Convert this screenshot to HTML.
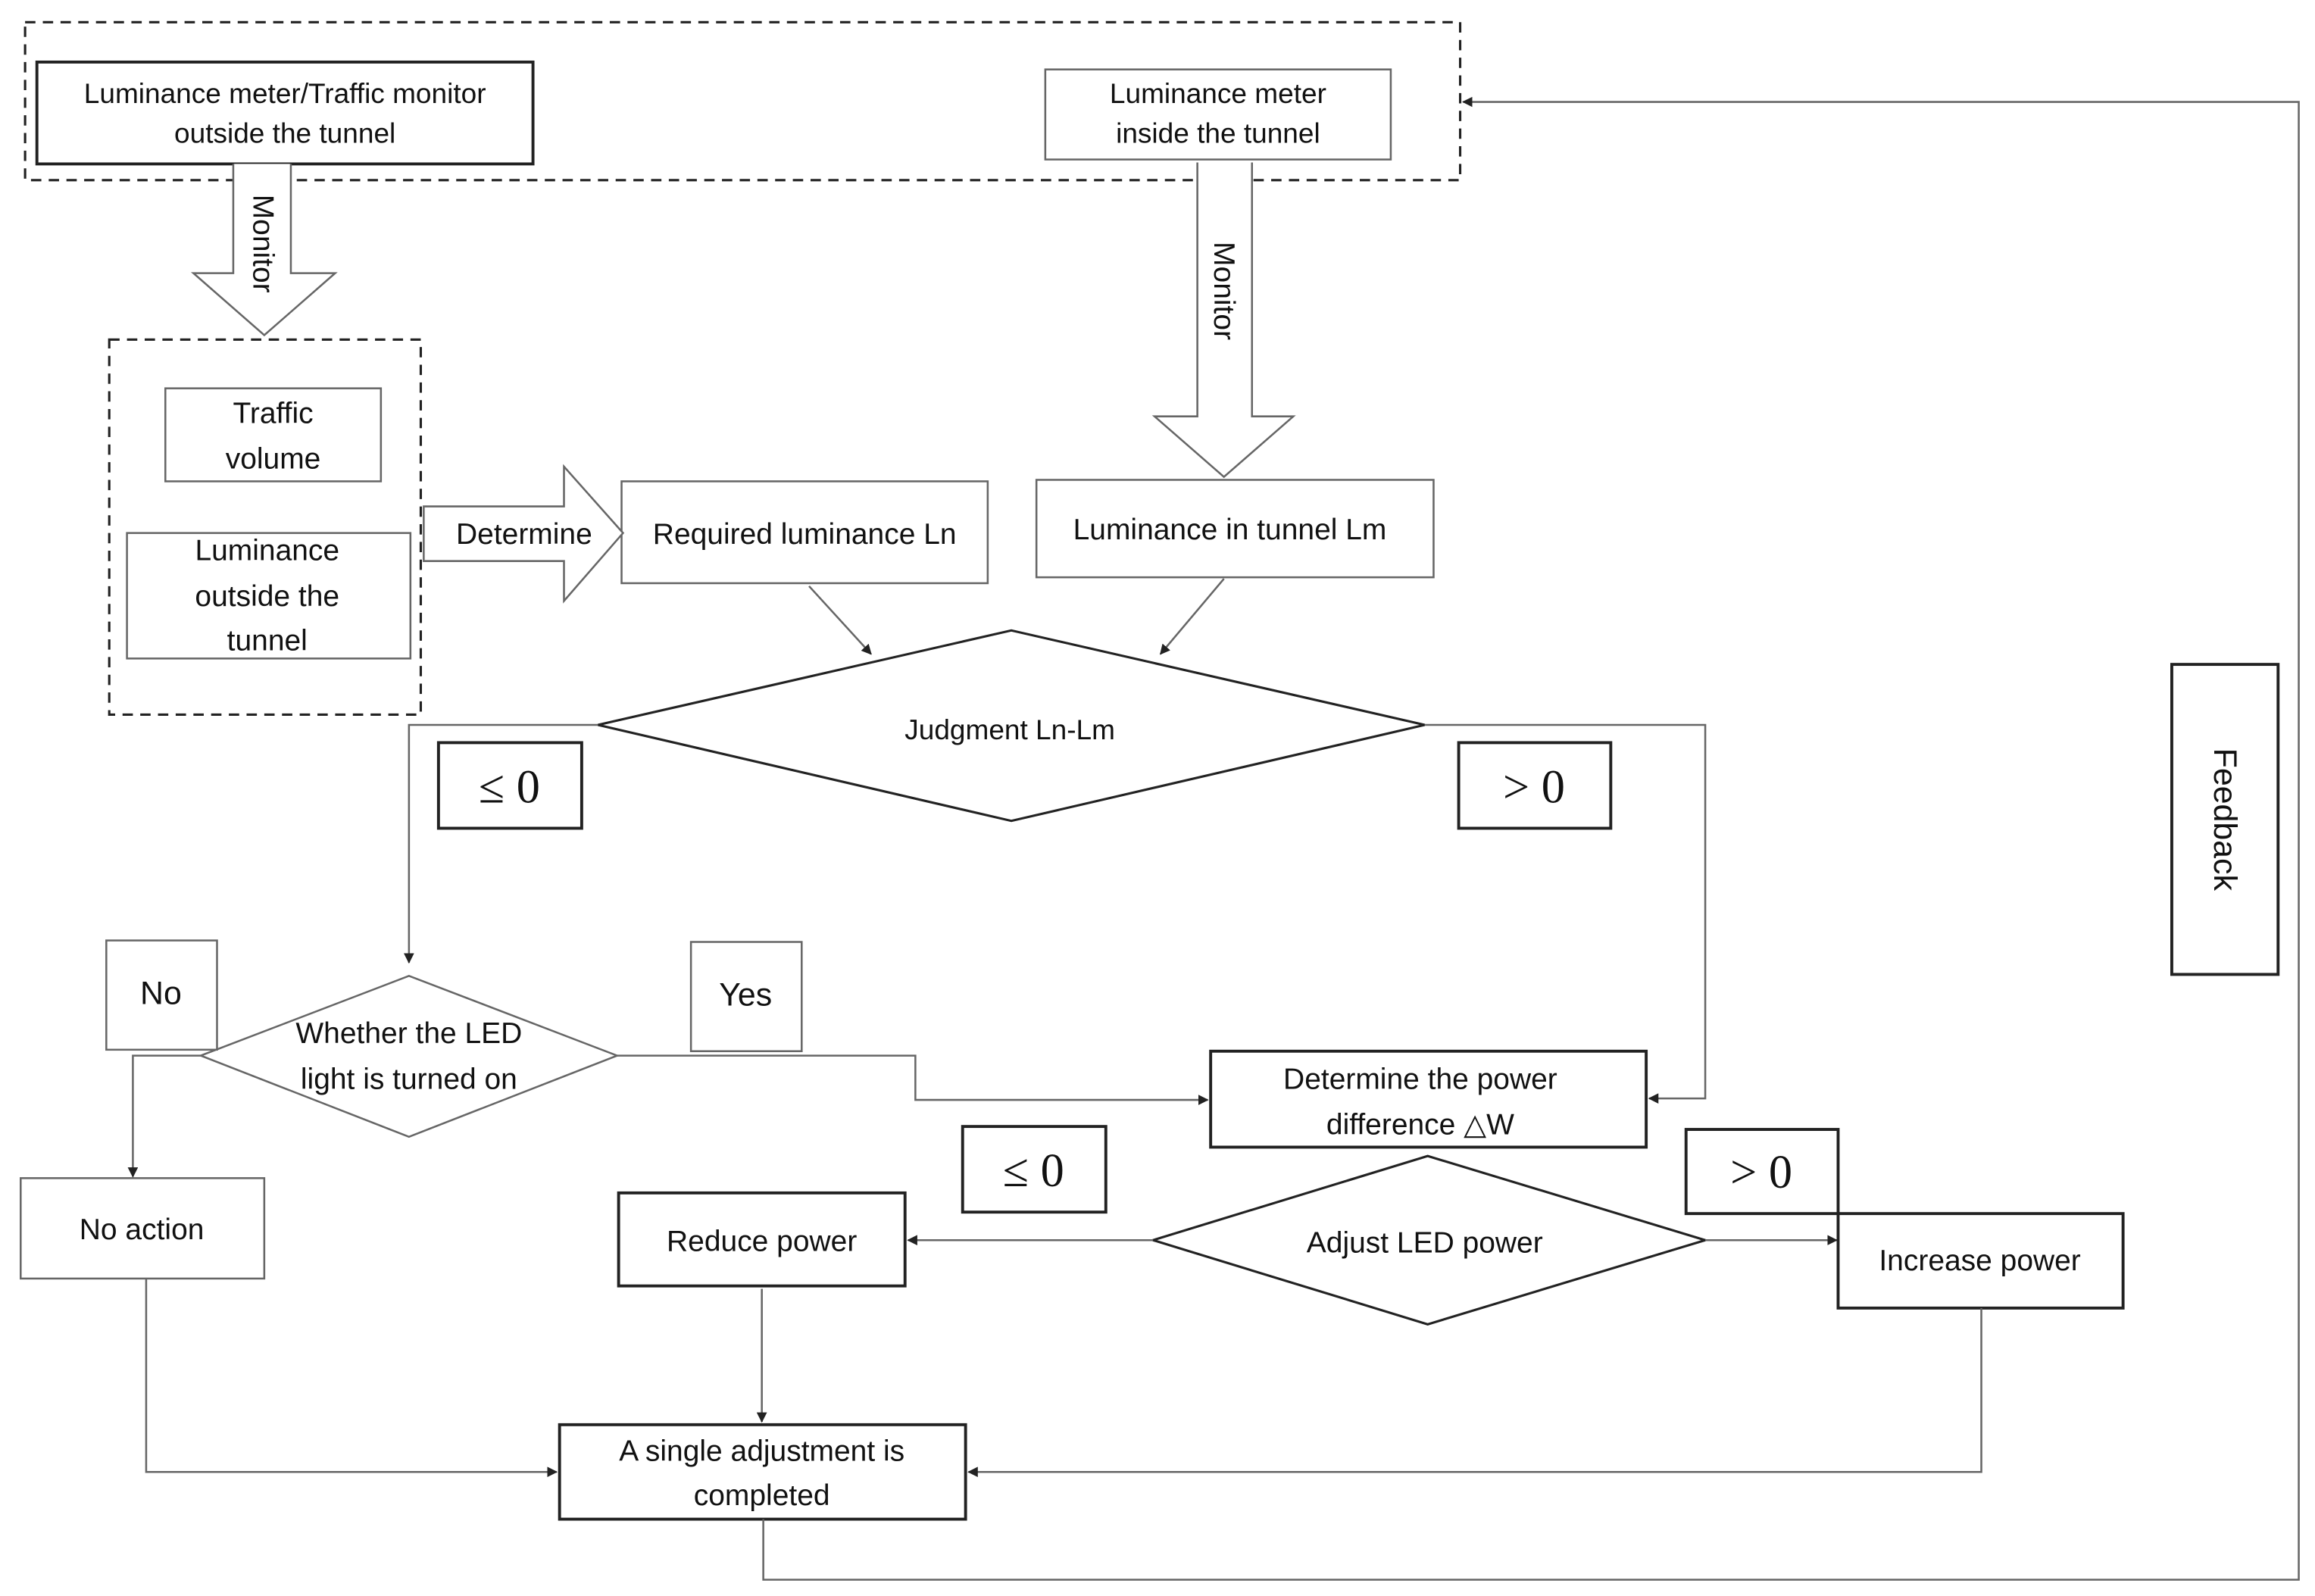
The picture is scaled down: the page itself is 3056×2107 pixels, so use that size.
<!DOCTYPE html>
<html><head><meta charset="utf-8"><style>html,body{margin:0;padding:0;background:#fff}svg{display:block}</style></head><body>
<svg width="3056" height="2107" viewBox="0 0 1568 1081" xmlns="http://www.w3.org/2000/svg" font-family="Liberation Sans, sans-serif" font-size="19" fill="none">
<defs><marker id="a" viewBox="0 0 10 10" refX="9" refY="5" markerWidth="7" markerHeight="7" orient="auto-start-reverse" markerUnits="userSpaceOnUse"><path d="M0,0L10,5L0,10z" fill="#222"/></marker></defs>
<g stroke="#222">
<rect x="17" y="15" width="972" height="107" stroke-width="1.6" stroke-dasharray="7,5"/>
<rect x="74" y="230" width="211" height="254" stroke-width="1.6" stroke-dasharray="7,5"/>
</g>
<g stroke="#222" stroke-width="2">
<rect x="25" y="42" width="336" height="69" fill="#fff"/>
<rect x="297" y="503" width="97" height="58"/>
<rect x="988" y="503" width="103" height="58"/>
<rect x="820" y="712" width="295" height="65"/>
<rect x="652" y="763" width="97" height="58"/>
<rect x="1142" y="765" width="103" height="57"/>
<rect x="419" y="808" width="194" height="63"/>
<rect x="1245" y="822" width="193" height="64"/>
<rect x="379" y="965" width="275" height="64"/>
<rect x="1471" y="450" width="72" height="210"/>
</g>
<g stroke="#666" stroke-width="1.3">
<rect x="708" y="47" width="234" height="61" fill="#fff"/>
<rect x="112" y="263" width="146" height="63"/>
<rect x="86" y="361" width="192" height="85"/>
<rect x="421" y="326" width="248" height="69"/>
<rect x="702" y="325" width="269" height="66"/>
<rect x="72" y="637" width="75" height="74"/>
<rect x="468" y="638" width="75" height="74"/>
<rect x="14" y="798" width="165" height="68"/>
<path d="M158,111V185H131L179,227L227,185H197V111" fill="#fff"/>
<path d="M811,110V282H782L829,323L876,282H848V110" fill="#fff"/>
<path d="M287,343H382V316L422,361L382,407V380H287z" fill="#fff"/>
<path d="M405,491L685,427L965,491L685,556z" stroke="#222" stroke-width="1.6"/>
<path d="M136,715L277,661L418,715L277,770z"/>
<path d="M781,840L967,783L1155,840L967,897z" stroke="#222" stroke-width="1.6"/>
<path d="M548,397L590,443" marker-end="url(#a)"/>
<path d="M829,392L786,443" marker-end="url(#a)"/>
<path d="M405,491H277V652" marker-end="url(#a)"/>
<path d="M965,491H1155V744H1117" marker-end="url(#a)"/>
<path d="M136,715H90V797" marker-end="url(#a)"/>
<path d="M418,715H620V745H818" marker-end="url(#a)"/>
<path d="M781,840H615" marker-end="url(#a)"/>
<path d="M1155,840H1244" marker-end="url(#a)"/>
<path d="M516,873V963" marker-end="url(#a)"/>
<path d="M99,866V997H377" marker-end="url(#a)"/>
<path d="M1342,886V997H656" marker-end="url(#a)"/>
<path d="M517,1029V1070H1557V69H991" marker-end="url(#a)"/>
</g>
<g fill="#111" text-anchor="middle" dominant-baseline="central">
<text x="193" y="63">Luminance meter/Traffic monitor</text>
<text x="193" y="90">outside the tunnel</text>
<text x="825" y="63">Luminance meter</text>
<text x="825" y="90">inside the tunnel</text>
<text transform="translate(178,165) rotate(90)" font-size="20">Monitor</text>
<text transform="translate(829,197) rotate(90)" font-size="20">Monitor</text>
<text x="185" y="280" font-size="20">Traffic</text>
<text x="185" y="311" font-size="20">volume</text>
<text x="181" y="373" font-size="20">Luminance</text>
<text x="181" y="404" font-size="20">outside the</text>
<text x="181" y="434" font-size="20">tunnel</text>
<text x="355" y="362" font-size="20">Determine</text>
<text x="545" y="362" font-size="20">Required luminance Ln</text>
<text x="833" y="359" font-size="20">Luminance in tunnel Lm</text>
<text x="684" y="494">Judgment Ln-Lm</text>
<text x="345" y="533" font-family="Liberation Serif, serif" font-size="32">≤ 0</text>
<text x="1039" y="533" font-family="Liberation Serif, serif" font-size="32">&gt; 0</text>
<text x="700" y="793" font-family="Liberation Serif, serif" font-size="32">≤ 0</text>
<text x="1193" y="794" font-family="Liberation Serif, serif" font-size="32">&gt; 0</text>
<text x="109" y="673" font-size="22">No</text>
<text x="505" y="674" font-size="22">Yes</text>
<text x="277" y="700" font-size="20">Whether the LED</text>
<text x="277" y="731" font-size="20">light is turned on</text>
<text x="962" y="731" font-size="20">Determine the power</text>
<text x="962" y="762" font-size="20">difference △W</text>
<text x="965" y="842" font-size="20">Adjust LED power</text>
<text x="516" y="841" font-size="20">Reduce power</text>
<text x="1341" y="854" font-size="20">Increase power</text>
<text x="96" y="833" font-size="20">No action</text>
<text x="516" y="983" font-size="20">A single adjustment is</text>
<text x="516" y="1013" font-size="20">completed</text>
<text transform="translate(1507,555) rotate(90)" font-size="22">Feedback</text>
</g>
</svg>
</body></html>
